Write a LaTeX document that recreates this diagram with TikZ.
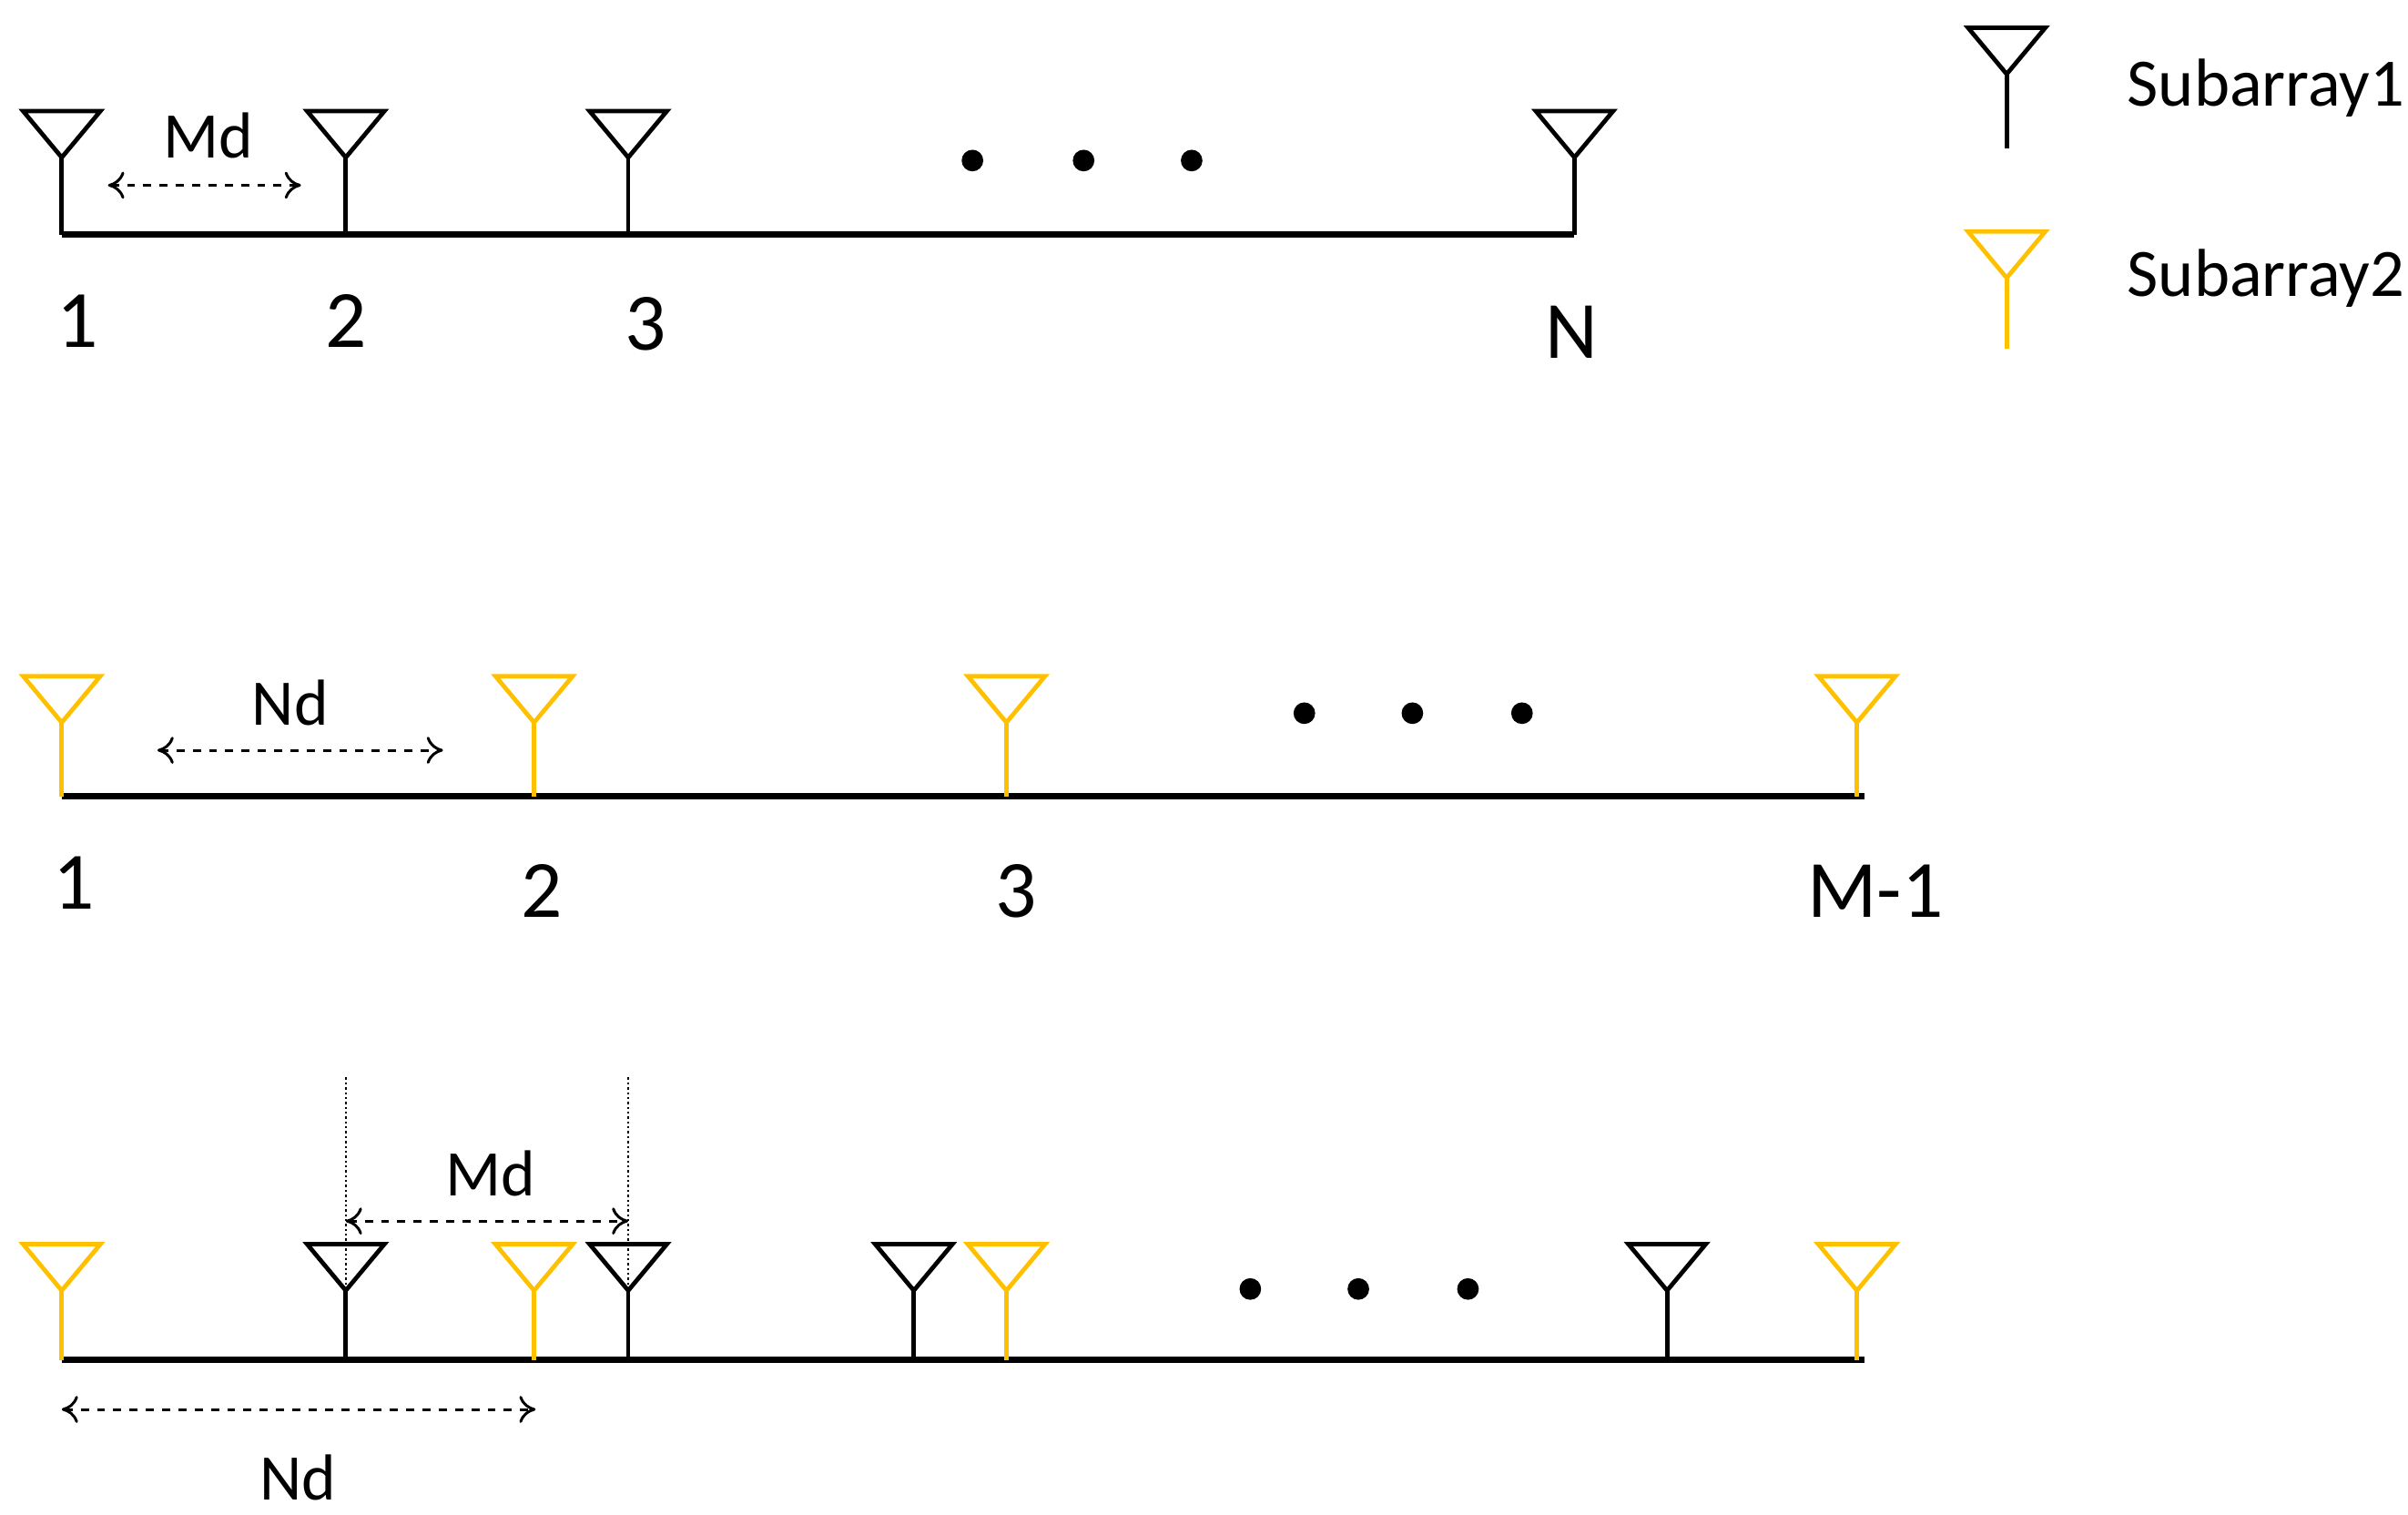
\documentclass[tikz,border=0pt]{standalone}
\usepackage{fontspec}
\setmainfont{Carlito}
\usetikzlibrary{arrows.meta}
\definecolor{ant}{RGB}{255,192,0}
\tikzset{
  base/.style={line width=2.4pt},
  antline/.style={line width=1.6pt},
  dim/.style={dashed,line width=1pt,{To[length=6pt,width=10pt]}-{To[length=6pt,width=10pt]}},
  lbl/.style={font=\fontsize{30}{34}\selectfont},
  dlbl/.style={font=\fontsize{24}{28}\selectfont},
  leg/.style={font=\fontsize{25}{30}\selectfont,anchor=west},
  dotc/.style={fill=black,draw=none}
}
\newcommand{\antenna}[4]{% x, top y, bottom y, color
  \draw[antline,#4,line join=miter] (#1-25,#2) -- (#1+25,#2) -- (#1,#2+30) -- cycle;
  \draw[antline,#4] (#1,#2+30) -- (#1,#3);}
\begin{document}
\begin{tikzpicture}[x=0.02cm,y=-0.02cm]
\useasboundingbox (0,0) rectangle (1560,981);
% Row 1
\draw[base] (40,152) -- (1020,152);
\foreach \x in {40,224,407,1020} {\antenna{\x}{72}{152}{black}}
\node[lbl] at (50,208) {1};
\node[lbl] at (224,208) {2};
\node[lbl] at (418,210) {3};
\node[lbl] at (1018,215) {N};
\foreach \x in {630,702,772} \fill[dotc] (\x,104) circle (7);
\coordinate (a1) at (70,120); \coordinate (b1) at (195,120);
\draw[dim] (a1) -- (b1);
\node[dlbl] at (135,88) {Md};
% Row 2
\draw[base] (40,516) -- (1208,516);
\foreach \x in {40,346,652,1203} {\antenna{\x}{438}{516}{ant}}
\node[lbl] at (48,572) {1};
\node[lbl] at (351,577) {2};
\node[lbl] at (658,577) {3};
\node[lbl] at (1215,577) {M-1};
\foreach \x in {845,915,986} \fill[dotc] (\x,462) circle (7);
\coordinate (a2) at (102,486); \coordinate (b2) at (287,486);
\draw[dim] (a2) -- (b2);
\node[dlbl] at (188,455) {Nd};
% Row 3
\draw[base] (40,881) -- (1208,881);
\foreach \x in {224,407,592,1080} {\antenna{\x}{806}{881}{black}}
\foreach \x in {40,346,652,1203} {\antenna{\x}{806}{881}{ant}}
\draw[densely dotted,line width=0.8pt] (224,698) -- (224,840);
\draw[densely dotted,line width=0.8pt] (407,698) -- (407,840);
\coordinate (a3) at (224,791); \coordinate (b3) at (407,791);
\draw[dim] (a3) -- (b3);
\node[dlbl] at (318,760) {Md};
\coordinate (a4) at (40,913); \coordinate (b4) at (347,913);
\draw[dim] (a4) -- (b4);
\node[dlbl] at (193,957) {Nd};
\foreach \x in {810,880,951} \fill[dotc] (\x,835) circle (7);
% Legend
\antenna{1300}{18}{96}{black}
\node[leg] at (1372,57) {Subarray1};
\antenna{1300}{150}{226}{ant}
\node[leg] at (1372,180) {Subarray2};
\end{tikzpicture}
\end{document}
